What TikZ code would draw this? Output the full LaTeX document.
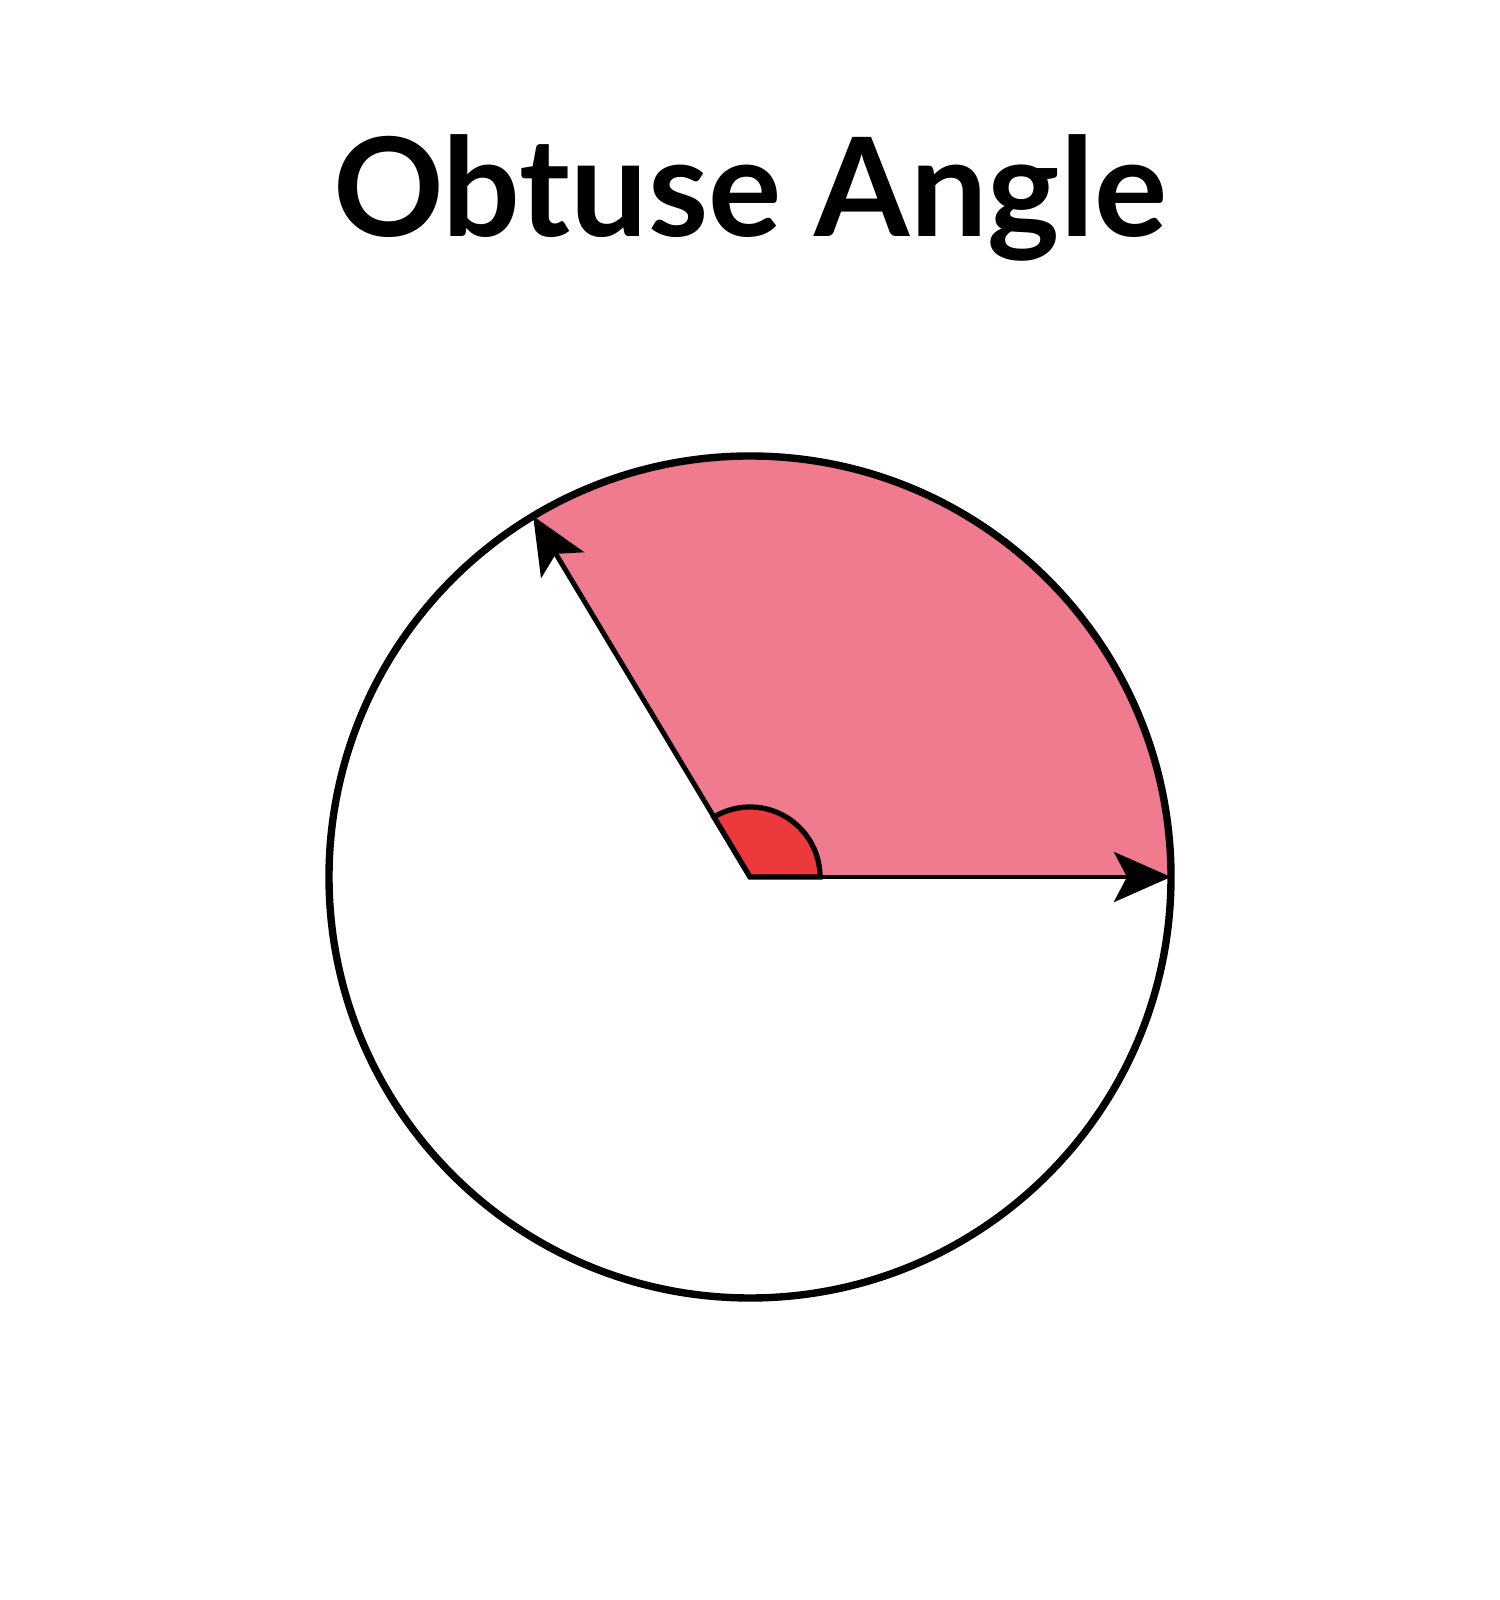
\documentclass[tikz,border=0pt]{standalone}
\usepackage{fontspec}
\setmainfont{Lato}
\usetikzlibrary{arrows.meta}

\definecolor{sectorpink}{HTML}{F07B8F}
\definecolor{anglered}{HTML}{EC393B}

\begin{document}
\begin{tikzpicture}[
        x=0.01cm,
        y=0.01cm,
        >={Stealth[length=0.57cm, width=0.5cm, inset=0.13cm]}
    ]
        \useasboundingbox (0,0) rectangle (1500,1600);

        \coordinate (O) at (750, 723);

        \pgfmathsetmacro{\R}{421}
        \pgfmathsetmacro{\t}{121}
        \coordinate (A) at ([shift={(0:\R)}]O);
        \coordinate (B) at ([shift={(\t:\R)}]O);

        \fill[sectorpink] (O) -- (A) arc[start angle=0, end angle=\t, radius=\R] -- cycle;

        \filldraw[anglered, draw=black, line width=1.5pt]
            (O) -- ([shift={(0:70)}]O) arc[start angle=0, end angle=\t, radius=70] -- cycle;

        \draw[line width=1.4pt, ->] (O) -- (A);
        \draw[line width=1.4pt, ->] (O) -- (B);

        \draw[line width=2.1pt] (O) circle[radius=\R];

        \node[anchor=base, font=\fontsize{39}{47}\selectfont\bfseries] (title) at (750, 1363) {Obtuse Angle};

    \end{tikzpicture}
\end{document}
